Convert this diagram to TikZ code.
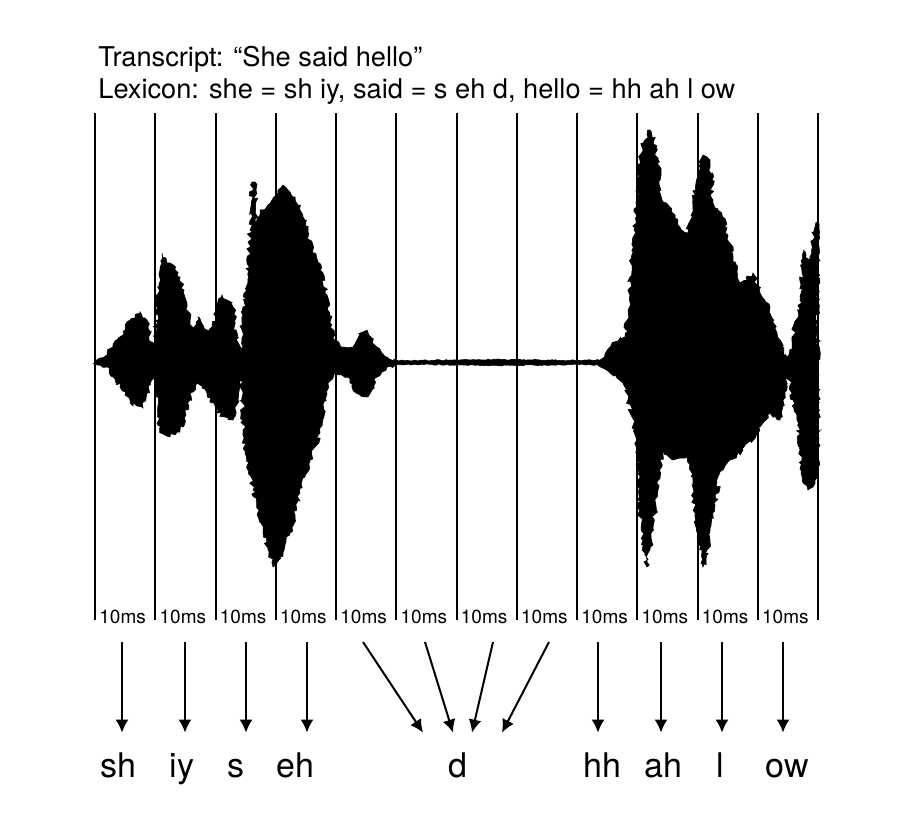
\documentclass[tikz,border=0pt]{standalone}
\usepackage{fontspec}
\setmainfont{TeX Gyre Heros}
\usetikzlibrary{calc}
\usetikzlibrary{positioning}
\usetikzlibrary{arrows.meta}
\usetikzlibrary{decorations.pathmorphing}

\begin{document}
\begin{tikzpicture}[x=0.5pt, y=-0.5pt, >={Latex[length=6.5pt,width=6.5pt]},
frame/.style={line width=1pt},
tick/.style={font=\fontsize{9.5}{11}\selectfont, anchor=base west, inner sep=0pt},
phone/.style={font=\fontsize{17}{20}\selectfont, anchor=base, inner xsep=0pt, inner ysep=10pt, text height=12pt},
title/.style={font=\fontsize{13.6}{16}\selectfont, anchor=base west, inner sep=0pt},
arrow/.style={->, line width=1pt},
wave/.style={fill=black, draw=black, line width=0.3pt, decorate, decoration={random steps, segment length=1.5pt, amplitude=1.2pt}},
silence/.style={fill=black, draw=black, line width=0.3pt, decorate, decoration={random steps, segment length=1pt, amplitude=0.3pt}}]

\fill[white] (0,0) rectangle (900,835);
\useasboundingbox (0,0) rectangle (900,835);
\pgfmathsetseed{7}

\node [title] (transcript) at (98,66) {Transcript: “She said hello”};
\node [title] (lexicon) at (98,98) {Lexicon: she = sh iy, said = s eh d, hello = hh ah l ow};

% waveform
\path [wave] (95,362) -- (100,358) -- (107,355) -- (113,345) -- (120,337) -- (125,330) -- (130,320) -- (135,318) -- (140,312) -- (145,318) -- (148,327) -- (153,347) -- (155,345) -- (157,300) -- (160,268) -- (162,253) -- (166,258) -- (170,263) -- (175,270) -- (180,277) -- (184,290) -- (187,307) -- (190,320) -- (193,333) -- (196,325) -- (198,317) -- (203,325) -- (207,333) -- (212,327) -- (217,310) -- (222,295) -- (227,300) -- (233,307) -- (236,330) -- (240,350) -- (242,340) -- (243,307) -- (247,290) -- (250,230) -- (252,182) -- (255,182) -- (257,227) -- (260,215) -- (263,210) -- (268,205) -- (272,200) -- (278,190) -- (283,185) -- (288,190) -- (293,197) -- (298,205) -- (303,217) -- (308,232) -- (313,250) -- (318,262) -- (323,273) -- (326,290) -- (328,307) -- (332,325) -- (335,340) -- (340,345) -- (347,350) -- (353,347) -- (358,338) -- (363,332) -- (367,330) -- (372,338) -- (377,347) -- (382,353) -- (387,357) -- (398,361)
 -- (398,364) -- (387,367) -- (382,372) -- (377,377) -- (372,390) -- (367,397) -- (360,395) -- (353,390) -- (350,383) -- (347,377) -- (342,375) -- (337,373) -- (333,378) -- (328,383) -- (324,410) -- (320,433) -- (315,447) -- (310,460) -- (305,477) -- (300,493) -- (295,515) -- (290,533) -- (285,545) -- (280,557) -- (276,565) -- (273,567) -- (268,550) -- (263,533) -- (258,512) -- (253,490) -- (249,472) -- (245,453) -- (243,420) -- (242,377) -- (238,400) -- (233,420) -- (225,417) -- (217,413) -- (212,403) -- (207,393) -- (202,388) -- (197,383) -- (193,392) -- (190,400) -- (186,415) -- (183,427) -- (177,432) -- (170,437) -- (165,435) -- (160,433) -- (158,405) -- (155,377) -- (152,380) -- (150,383) -- (146,398) -- (143,408) -- (137,406) -- (130,403) -- (125,395) -- (120,387) -- (113,377) -- (107,367) -- (100,365) -- (95,364) -- cycle;

\path [silence] (395,360.5) -- (420,360.5) -- (460,360) -- (500,359.5) -- (540,360) -- (580,360.5) -- (602,360)
 -- (602,365) -- (580,364.5) -- (540,365) -- (500,365.5) -- (460,365) -- (420,364.5) -- (395,364.5) -- cycle;

\path [wave] (598,361) -- (605,354) -- (610,347) -- (618,341) -- (625,337) -- (628,310) -- (630,277) -- (634,230) -- (637,183) -- (640,160) -- (643,143) -- (647,135) -- (650,130) -- (654,140) -- (658,160) -- (660,180) -- (662,200) -- (666,203) -- (670,207) -- (675,218) -- (680,227) -- (684,232) -- (688,233) -- (691,215) -- (693,200) -- (698,175) -- (703,155) -- (707,157) -- (710,160) -- (712,180) -- (713,200) -- (718,210) -- (723,217) -- (728,235) -- (733,257) -- (737,272) -- (740,283) -- (746,278) -- (753,273) -- (757,285) -- (760,293) -- (765,300) -- (770,307) -- (774,320) -- (777,333) -- (782,347) -- (787,357) -- (790,350) -- (792,340) -- (796,320) -- (800,300) -- (802,270) -- (803,250) -- (806,255) -- (810,260) -- (813,240) -- (815,227) -- (818,223)
 -- (818,467) -- (815,480) -- (813,487) -- (808,490) -- (803,483) -- (800,450) -- (797,420) -- (793,400) -- (790,385) -- (787,373) -- (783,400) -- (780,420) -- (775,416) -- (770,413) -- (763,423) -- (757,433) -- (750,441) -- (743,450) -- (737,455) -- (730,460) -- (725,466) -- (720,473) -- (715,505) -- (710,540) -- (706,560) -- (703,567) -- (698,535) -- (693,500) -- (690,470) -- (687,457) -- (680,458) -- (673,460) -- (667,455) -- (662,450) -- (658,490) -- (653,527) -- (650,550) -- (647,567) -- (643,540) -- (640,517) -- (638,480) -- (637,450) -- (635,430) -- (632,417) -- (628,400) -- (623,383) -- (617,378) -- (610,373) -- (605,369) -- (598,364) -- cycle;

% frames
\foreach \i in {0,...,12} {
  \coordinate (b\i) at ({95+60.25*\i},113);
  \coordinate (e\i) at ({95+60.25*\i},620);
  \draw [frame] (b\i) -- (e\i);
}
\foreach \i in {0,...,11}
  \node [tick] (ms\i) at ($(e\i)+(4,3)$) {10ms};

% phones
\node [phone] (sh) at (118,777) {sh};
\node [phone] (iy) at (182,777) {iy};
\node [phone] (s) at (236,777) {s};
\node [phone] (eh) at (295,777) {eh};
\node [phone] (d) at (458,777) {d};
\node [phone] (hh) at (602,777) {hh};
\node [phone] (ah) at (663,777) {ah};
\node [phone] (l) at (720,777) {l};
\node [phone] (ow) at (787,777) {ow};

\coordinate (a-sh) at (122,642);
\coordinate (a-iy) at (185,642);
\coordinate (a-s) at (246,642);
\coordinate (a-eh) at (307,642);
\coordinate (a-d1) at (363,642);
\coordinate (a-d2) at (425,642);
\coordinate (a-d3) at (493,642);
\coordinate (a-d4) at (549,642);
\coordinate (a-hh) at (598,642);
\coordinate (a-ah) at (661,642);
\coordinate (a-l) at (722,642);
\coordinate (a-ow) at (783,642);

\draw [arrow] (a-sh) -- (a-sh |- sh.north);
\draw [arrow] (a-iy) -- (a-iy |- iy.north);
\draw [arrow] (a-s) -- (a-s |- s.north);
\draw [arrow] (a-eh) -- (a-eh |- eh.north);
\draw [arrow] (a-d1) -- ($(d.north)+(-35,0)$);
\draw [arrow] (a-d2) -- ($(d.north)+(-5,0)$);
\draw [arrow] (a-d3) -- ($(d.north)+(14,0)$);
\draw [arrow] (a-d4) -- ($(d.north)+(44,0)$);
\draw [arrow] (a-hh) -- (a-hh |- hh.north);
\draw [arrow] (a-ah) -- (a-ah |- ah.north);
\draw [arrow] (a-l) -- (a-l |- l.north);
\draw [arrow] (a-ow) -- (a-ow |- ow.north);
\end{tikzpicture}
\end{document}
